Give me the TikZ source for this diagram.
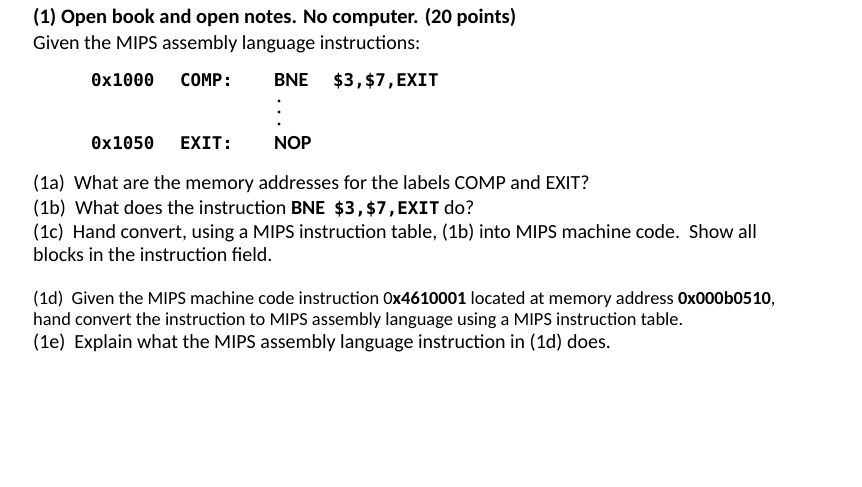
\documentclass[tikz,border=0pt]{standalone}
\usepackage{fontspec}
\setmainfont{Carlito}
\newfontfamily\codefont{DejaVu Sans Mono}
\begin{document}
\begin{tikzpicture}[x=1pt,y=-1pt,
  txt/.style={anchor=base west,inner sep=0pt,font=\fontsize{20}{24}\selectfont},
  txtsm/.style={anchor=base west,inner sep=0pt,font=\fontsize{18.4}{22}\selectfont},
  code/.style={anchor=base west,inner sep=0pt,font=\codefont\bfseries\fontsize{17.5}{20}\selectfont}]
\useasboundingbox[fill=white] (0,0) rectangle (862,487);
\node[txt] (t1) at (33,24) {\fontsize{20.5}{24}\selectfont\textbf{(1) Open book and open notes. No computer. (20 points)}};
\node[txt] (t2) at (33,49) {Given the MIPS assembly language instructions:};
\node[code] (a1) at (91,87) {0x1000};
\node[code] (l1) at (180,87) {COMP:};
\node[txt] (i1) at (274,87) {\textbf{BNE}};
\node[code] (o1) at (333,87) {\$3,\$7,EXIT};
\foreach \y in {101,112,124} \fill (279,\y) circle (1.6);
\node[code] (a2) at (91,149) {0x1050};
\node[code] (l2) at (180,149) {EXIT:};
\node[txt] (i2) at (274,149) {\textbf{NOP}};
\node[txt] (q1) at (33,189) {(1a)\ \ What are the memory addresses for the labels COMP and EXIT?};
\node[txt] (q2) at (33,214) {(1b)\ \ What does the instruction \textbf{BNE}\ \ {\codefont\bfseries\fontsize{17.5}{20}\selectfont\$3,\$7,EXIT} do?};
\node[txt] (q3) at (33,238) {(1c)\ \ Hand convert, using a MIPS instruction table, (1b) into MIPS machine code.\ \ Show all};
\node[txt] (q4) at (33,261) {blocks in the instruction field.};
\node[txtsm] (q5) at (33,304) {(1d)\ \ Given the MIPS machine code instruction 0\textbf{x4610001} located at memory address \textbf{0x000b0510},};
\node[txtsm] (q6) at (33,325) {hand convert the instruction to MIPS assembly language using a MIPS instruction table.};
\node[txt] (q7) at (33,348) {(1e)\ \ Explain what the MIPS assembly language instruction in (1d) does.};
\end{tikzpicture}
\end{document}
